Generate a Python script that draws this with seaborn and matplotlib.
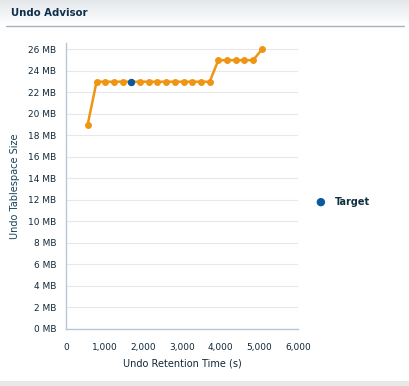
import numpy as np
import pandas as pd
import seaborn as sns
import matplotlib.pyplot as plt
from matplotlib.ticker import FuncFormatter

# data
time_s = [560, 790, 1015, 1240, 1465, 1690, 1915, 2140, 2365, 2590, 2815,
          3040, 3265, 3490, 3715, 3940, 4165, 4390, 4615, 4840, 5065]
size_mb = [19, 23, 23, 23, 23, 23, 23, 23, 23, 23, 23,
           23, 23, 23, 23, 25, 25, 25, 25, 25, 26]
target_time = [1690]
target_size = [23]

df = pd.DataFrame({"Tempo": time_s, "Tamanho": size_mb})
df_target = pd.DataFrame({"Tempo": target_time, "Tamanho": target_size})

sns.set_style("white")
plt.rcParams["font.family"] = ["DejaVu Sans"]

fig = plt.figure(figsize=(4.1, 3.86), dpi=100)

# header band with gradient
hdr = fig.add_axes([0, 1 - 25 / 386, 1, 25 / 386])
grad = np.linspace(1, 0, 50).reshape(-1, 1)
hdr.imshow(grad, aspect="auto", cmap=plt.matplotlib.colors.LinearSegmentedColormap.from_list(
    "g", ["#ffffff", "#e4e7ea"]), extent=[0, 1, 0, 1])
hdr.set_axis_off()
hdr.text(0.026, 0.5, "Undo Advisor", fontsize=7.3, fontweight="bold",
         color="#0e2f4c", va="center", ha="left", transform=hdr.transAxes)
fig.add_artist(plt.Line2D([0.015, 0.985], [1 - 25.5 / 386] * 2, color="#a7b4c0", lw=1))
# bottom strip
fig.add_artist(plt.Rectangle((0, 0), 1, 5 / 386, color="#e8e8e8", lw=0))

ax = fig.add_axes([66 / 410, 57 / 386, 232 / 410, 286 / 386])
sns.lineplot(data=df, x="Tempo", y="Tamanho", ax=ax, color="#ef9512",
             marker="o", markersize=5, markeredgewidth=0, linewidth=1.8)
sns.scatterplot(data=df_target, x="Tempo", y="Tamanho", ax=ax, color="#0a5aa2",
                s=28, linewidth=0, zorder=5)

ax.set_xlim(0, 6000)
ax.set_ylim(0, 26.6)
ax.set_xticks(range(0, 6001, 1000))
ax.set_yticks(range(0, 27, 2))
ax.xaxis.set_major_formatter(FuncFormatter(lambda v, p: f"{int(v):,}"))
ax.yaxis.set_major_formatter(FuncFormatter(lambda v, p: f"{int(v)} MB"))
ax.grid(axis="y", color="#e6e9ec", lw=0.8)
ax.set_axisbelow(True)
for s in ["top", "right"]:
    ax.spines[s].set_visible(False)
for s in ["left", "bottom"]:
    ax.spines[s].set_color("#b5c9da")
    ax.spines[s].set_linewidth(1)
ax.tick_params(axis="both", length=4, width=0.8, color="#b5c9da",
               labelsize=6.5, labelcolor="#10293b", pad=3)
ax.tick_params(axis="y", direction="out")
ax.tick_params(axis="x", pad=6)
ax.set_xlabel("Undo Retention Time (s)", fontsize=7, color="#10293b", labelpad=5)
ax.set_ylabel("Undo Tablespace Size", fontsize=7, color="#15435a", labelpad=6)

# legend
fig.text(320 / 410, 1 - 202 / 386, "\u25cf", color="#0a5aa2", fontsize=8,
         ha="center", va="center")
fig.text(335 / 410, 1 - 202 / 386, "Target", color="#0e2f3c", fontsize=7,
         fontweight="bold", ha="left", va="center")

plt.savefig("out.png", dpi=100)
